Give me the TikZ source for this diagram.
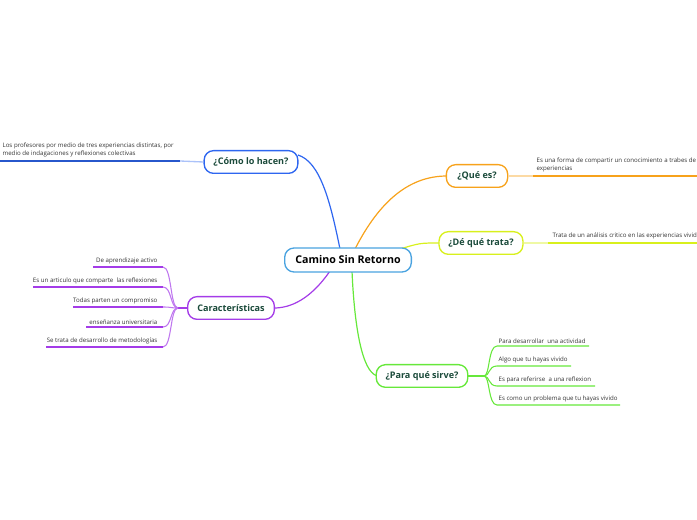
\documentclass[tikz,border=0pt]{standalone}
\usepackage{fontspec}
\setmainfont{Open Sans}
\begin{document}
\begin{tikzpicture}[x=0.75pt,y=-0.75pt,
 topic/.style={draw=#1,line width=1pt,rounded corners=7pt,fill=white,minimum height=17pt,inner xsep=7pt,font=\bfseries\fontsize{6.8}{8}\selectfont,text=black!70!green!40!black},
 leaf/.style={font=\fontsize{4.6}{6}\selectfont,inner sep=1pt,text=black!80},
 con/.style={line width=0.9pt,#1}]
\useasboundingbox (0,0) rectangle (697,520);
\definecolor{cb}{HTML}{2E66F0}\definecolor{co}{HTML}{F7A21B}\definecolor{cy}{HTML}{D8F01C}
\definecolor{cg}{HTML}{66E83A}\definecolor{cp}{HTML}{A43CE8}\definecolor{cc}{HTML}{4AA3E0}
\definecolor{tg}{HTML}{1A4A3A}
% connectors
\coordinate (c0) at (348,255);
\draw[con=cb] (340,249) .. controls (330,200) and (320,162) .. (298,155);
\draw[con=co] (355,249) .. controls (380,200) and (410,176) .. (447,176);
\draw[con=cy] (400,249) .. controls (420,243) .. (440,243);
\draw[con=cg] (352,271) .. controls (355,340) and (365,376) .. (379,376);
\draw[con=cp] (330,271) .. controls (310,300) and (290,308) .. (274,308);
\node[topic=cc,text=black,font=\bfseries\fontsize{8}{9}\selectfont,minimum width=95pt,minimum height=18pt] (m) at (348,260) {Camino Sin Retorno};
\node[topic=cb,text=tg,minimum width=70pt] (a) at (251,162) {¿Cómo lo hacen?};
\node[topic=co,text=tg,minimum width=46pt] (b) at (477,176) {¿Qué es?};
\node[topic=cy,text=tg,minimum width=62pt] (c) at (481,243) {¿Dé qué trata?};
\node[topic=cg,text=tg,minimum width=65pt] (d) at (422,376) {¿Para qué sirve?};
\node[topic=cp,text=tg,minimum width=65pt] (e) at (231,308) {Características};
% Cómo leaf
\draw[cb!40,line width=1pt] (a.west) -- (180,161);
\draw[cb!85!black,line width=1.3pt] (180,161) -- (0,161);
\node[leaf,anchor=south west,align=left] (a1) at (1,159) {Los profesores por medio de tres experiencias distintas, por\\medio de indagaciones y reflexiones colectivas};
% Qué es leaf
\draw[co!40,line width=1pt] (b.east) -- (533,176);
\draw[co,line width=1.3pt] (533,176) -- (697,176);
\node[leaf,anchor=south west,align=left] (b1) at (535,174) {Es una forma de compartir un conocimiento a trabes de\\experiencias};
% trata leaf
\draw[cy!40,line width=1pt] (c.east) -- (548,243);
\draw[cy,line width=1.3pt] (548,243) -- (697,243);
\node[leaf,anchor=south west] (c1) at (551,241) {Trata de un análisis critico en las experiencias vividas};
% Para qué sirve leaves
\draw[cg,line width=1pt] (d.east) -- (484,376);
\foreach \y/\xe/\t [count=\i] in {346/589/{Para desarrollar\ \ una actividad},366/571/{Algo que tu hayas vivido},386/595/{Es para referirse\ \ a una reflexion},405/620/{Es como un problema que tu hayas vivido}}{
 \draw[cg,line width=0.8pt] (484,376) .. controls (490,376) and (488,\y) .. (497,\y) -- (\xe,\y);
 \node[leaf,anchor=south west] (d\i) at (497,\y-1) {\t};
}
% Características leaves
\draw[cp,line width=1pt] (e.west) -- (178,308);
\foreach \y/\xs/\t [count=\i] in {267/93/{De aprendizaje activo},287/33/{Es un articulo que comparte\ \ las reflexiones},307/73/{Todas parten un compromiso},327/86/{enseñanza universitaria},347/46/{Se trata de desarrollo de metodologías}}{
 \draw[cp!70,line width=0.8pt] (178,308) .. controls (170,308) and (172,\y) .. (163,\y);
 \draw[cp,line width=1.2pt] (163,\y) -- (\xs,\y);
 \node[leaf,anchor=south east] (e\i) at (159,\y-1) {\t};
}
\end{tikzpicture}
\end{document}
